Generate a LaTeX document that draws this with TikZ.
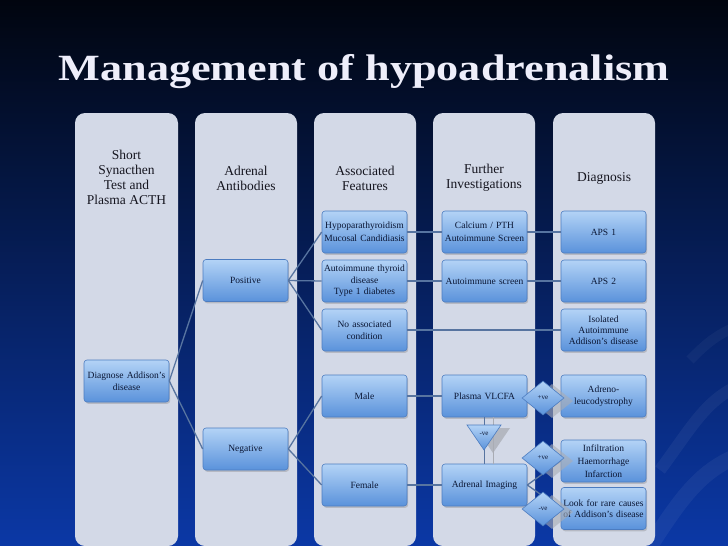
\documentclass[tikz,border=0pt]{standalone}
\usepackage{fontspec}
\setmainfont{Liberation Serif}
\usetikzlibrary{shadows,shapes.geometric}
\definecolor{bgtop}{HTML}{01050F}
\definecolor{bgmid}{HTML}{061C5A}
\definecolor{bgbot}{HTML}{0B38A6}
\definecolor{panel}{HTML}{D3D9E7}
\definecolor{boxtop}{HTML}{B3D3F6}
\definecolor{boxbot}{HTML}{5A92DB}
\definecolor{boxline}{HTML}{4C7CC0}
\definecolor{connc}{HTML}{5774A0}
\definecolor{boxtext}{HTML}{0A1634}
\definecolor{headtext}{HTML}{15151F}
\definecolor{titletext}{HTML}{EEEEFA}
\definecolor{ghost}{HTML}{A9ACB4}
\begin{document}
\begin{tikzpicture}[x=1pt,y=-1pt,
  panelbox/.style={fill=panel, rounded corners=10pt},
  box/.style={rectangle, rounded corners=3pt, draw=boxline, line width=0.6pt,
    top color=boxtop, bottom color=boxbot, minimum width=85pt, minimum height=42pt,
    text width=84pt, inner sep=0pt, align=center, text=boxtext,
    font=\fontsize{9.5}{12}\selectfont,
    drop shadow={shadow xshift=1.2pt, shadow yshift=-1.8pt, opacity=0.35}},
  head/.style={align=center, text=headtext, font=\fontsize{13.5}{15}\selectfont},
  link/.style={draw=connc, line width=1.3pt},
  dia/.style={diamond, aspect=1.25, minimum width=42pt, minimum height=34pt, inner sep=0pt,
    draw=boxline, line width=0.6pt, top color=boxtop, bottom color=boxbot,
    text=boxtext, font=\fontsize{7}{7}\selectfont},
  ghostdia/.style={diamond, aspect=1.25, minimum width=42pt, minimum height=34pt,
    inner sep=0pt, fill=ghost, opacity=0.6},
  small/.style={text=boxtext, font=\fontsize{7}{7}\selectfont, inner sep=0pt}
]
\useasboundingbox (0,0) rectangle (728,546);
% background
\shade[top color=bgtop, middle color=bgmid, bottom color=bgbot] (0,0) rectangle (728,546);
\draw[white, opacity=0.05, line width=16pt] (650,546) .. controls (680,500) and (700,470) .. (740,455);
\draw[white, opacity=0.05, line width=12pt] (660,470) .. controls (690,430) and (705,400) .. (740,385);
\draw[white, opacity=0.04, line width=10pt] (690,360) .. controls (705,345) and (715,335) .. (740,325);
% title
\node[anchor=base, text=titletext, font=\fontsize{37}{40}\selectfont\bfseries] (title) at (364,80) {\scalebox{1.195}[1]{Management of hypoadrenalism}};
% panels
\fill[panelbox] (75,113) rectangle (178,546);
\fill[panelbox] (195,113) rectangle (297,546);
\fill[panelbox] (314,113) rectangle (416,546);
\fill[panelbox] (433,113) rectangle (535,546);
\fill[panelbox] (553,113) rectangle (655,546);
% headers
\node[head] (h1) at (126.5,177) {Short\\Synacthen\\Test and\\Plasma ACTH};
\node[head] (h2) at (246,178) {Adrenal\\Antibodies};
\node[head] (h3) at (365,178) {Associated\\Features};
\node[head] (h4) at (484,178) {Further\\Investigations};
\node[head] (h5) at (604,178) {Diagnosis};
% boxes
\node[box] (diag) at (126.5,381) {Diagnose Addison's\\disease};
\node[box] (pos) at (245.5,280.5) {Positive};
\node[box] (neg) at (245.5,449) {Negative};
\node[box] (hyp) at (364.5,232) {Hypoparathyroidism\\[1pt]Mucosal Candidiasis};
\node[box, font=\fontsize{9.5}{11.5}\selectfont] (ait) at (364.5,281) {Autoimmune thyroid\\disease\\Type 1 diabetes};
\node[box] (noa) at (364.5,330) {No associated\\condition};
\node[box] (male) at (364.5,396) {Male};
\node[box] (fem) at (364.5,485) {Female};
\node[box] (cal) at (484.5,232) {Calcium / PTH\\[1pt]Autoimmune Screen};
\node[box] (ais) at (484.5,281) {Autoimmune screen};
\node[box] (vlc) at (484.5,396) {Plasma VLCFA};
\node[box] (img) at (484.5,485) {Adrenal Imaging};
\node[box] (aps1) at (603.5,232) {APS 1};
\node[box] (aps2) at (603.5,281) {APS 2};
\node[box, font=\fontsize{9.5}{11}\selectfont] (iso) at (603.5,330) {Isolated\\Autoimmune\\Addison's disease};
\node[box] (ald) at (603.5,396) {Adreno-\\leucodystrophy};
\node[box, font=\fontsize{9.5}{11}\selectfont] (inf) at (603.5,461) {Infiltration\\[2pt]Haemorrhage\\[2pt]Infarction};
\node[box, font=\fontsize{9.5}{11}\selectfont] (rare) at (603.5,508.5) {Look for rare causes\\of Addison's disease};
% connectors
\draw[link] (diag.east) -- (pos.west);
\draw[link] (diag.east) -- (neg.west);
\draw[link] (pos.east) -- (hyp.west);
\draw[link] (pos.east) -- (ait.west);
\draw[link] (pos.east) -- (noa.west);
\draw[link] (neg.east) -- (male.west);
\draw[link] (neg.east) -- (fem.west);
\draw[link] (hyp.east) -- (cal.west);
\draw[link] (ait.east) -- (ais.west);
\draw[link] (cal.east) -- (aps1.west);
\draw[link] (ais.east) -- (aps2.west);
\draw[link] (noa.east) -- (iso.west);
\draw[link] (male.east) -- (vlc.west);
\draw[link] (fem.east) -- (img.west);
\draw[link] (vlc.east) -- (ald.west);
\draw[link] (img.east) -- (inf.west);
\draw[link] (img.east) -- (rare.west);
% -ve triangle with its shadow
\draw[ghost, line width=1.3pt] ([xshift=9pt]vlc.south) -- ([xshift=9pt]img.north);
\fill[ghost, opacity=0.75] (476,428) -- (510,428) -- (493,453) -- cycle;
\draw[link] (vlc.south) -- (img.north);
\shadedraw[top color=boxtop, bottom color=boxbot, draw=boxline, line width=0.6pt] (467,425) -- (501,425) -- (484,450) -- cycle;
\node[small] (trilabel) at (484,434) {-ve};
% diamonds with shadows
\node[ghostdia] (g1) at (552,401) {};
\node[ghostdia] (g2) at (552,461) {};
\node[ghostdia] (g3) at (552,512) {};
\node[dia] (d1) at (543,398) {+ve};
\node[dia] (d2) at (543,458) {+ve};
\node[dia] (d3) at (543,509) {-ve};
\end{tikzpicture}
\end{document}
